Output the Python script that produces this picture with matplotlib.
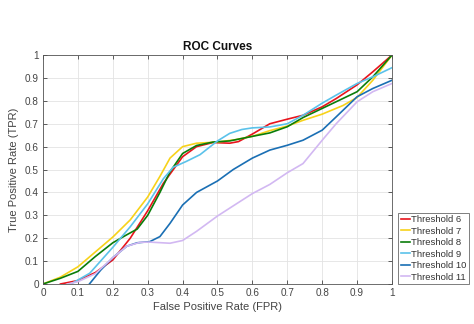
import matplotlib
matplotlib.use("Agg")
import matplotlib.pyplot as plt

plt.rcParams['font.family'] = ['Liberation Sans', 'DejaVu Sans']

# ROC curve readings (FPR, TPR) per threshold
fpr_t6 = [0.05, 0.10, 0.15, 0.20, 0.25, 0.30, 0.345, 0.383, 0.40, 0.44, 0.487, 0.535, 0.56,
          0.60, 0.65, 0.70, 0.745, 0.80, 0.84, 0.90, 0.945, 1.0]
tpr_t6 = [0.0, 0.015, 0.05, 0.105, 0.20, 0.32, 0.44, 0.52, 0.556, 0.60, 0.618, 0.615, 0.622,
          0.655, 0.70, 0.72, 0.737, 0.774, 0.81, 0.87, 0.927, 1.0]

fpr_t7 = [0.0, 0.05, 0.10, 0.15, 0.20, 0.25, 0.30, 0.335, 0.364, 0.40, 0.44, 0.50, 0.55,
          0.60, 0.65, 0.70, 0.745, 0.80, 0.86, 0.90, 0.945, 1.0]
tpr_t7 = [0.0, 0.03, 0.075, 0.14, 0.205, 0.28, 0.38, 0.47, 0.55, 0.60, 0.615, 0.62, 0.63,
          0.645, 0.67, 0.69, 0.715, 0.742, 0.78, 0.815, 0.89, 1.0]

fpr_t8 = [0.0, 0.05, 0.10, 0.15, 0.20, 0.24, 0.27, 0.30, 0.335, 0.364, 0.40, 0.44, 0.487,
          0.535, 0.60, 0.65, 0.70, 0.745, 0.80, 0.87, 0.90, 0.945, 1.0]
tpr_t8 = [0.0, 0.025, 0.055, 0.12, 0.18, 0.215, 0.24, 0.30, 0.40, 0.49, 0.57, 0.605, 0.62,
          0.625, 0.645, 0.66, 0.687, 0.727, 0.767, 0.818, 0.84, 0.905, 1.0]

fpr_t9 = [0.08, 0.134, 0.20, 0.25, 0.30, 0.345, 0.373, 0.41, 0.45, 0.50, 0.535, 0.57, 0.60,
          0.65, 0.70, 0.745, 0.80, 0.84, 0.90, 0.945, 1.0]
tpr_t9 = [0.0, 0.047, 0.16, 0.25, 0.35, 0.46, 0.51, 0.535, 0.565, 0.625, 0.658, 0.675, 0.682,
          0.686, 0.70, 0.737, 0.79, 0.825, 0.876, 0.905, 0.945]

fpr_t10 = [0.133, 0.165, 0.20, 0.24, 0.27, 0.306, 0.335, 0.364, 0.40, 0.44, 0.50, 0.545, 0.60,
           0.65, 0.70, 0.745, 0.80, 0.84, 0.90, 0.945, 1.0]
tpr_t10 = [0.0, 0.06, 0.115, 0.165, 0.18, 0.185, 0.207, 0.265, 0.345, 0.40, 0.45, 0.50, 0.55,
           0.585, 0.606, 0.628, 0.672, 0.73, 0.818, 0.854, 0.89]

fpr_t11 = [0.07, 0.10, 0.15, 0.20, 0.24, 0.278, 0.306, 0.364, 0.40, 0.44, 0.50, 0.554, 0.60,
           0.65, 0.70, 0.745, 0.80, 0.84, 0.90, 0.945, 1.0]
tpr_t11 = [0.0, 0.01, 0.045, 0.115, 0.165, 0.182, 0.183, 0.178, 0.19, 0.23, 0.297, 0.35, 0.395,
           0.435, 0.486, 0.526, 0.628, 0.70, 0.796, 0.84, 0.876]

labels = ['Threshold 6', 'Threshold 7', 'Threshold 8', 'Threshold 9', 'Threshold 10', 'Threshold 11']
colors = ['#e8141c', '#f7d21a', '#0a7d0a', '#5bc2ea', '#1a6fb4', '#d2b8f2']

curves = [(fpr_t6, tpr_t6), (fpr_t7, tpr_t7), (fpr_t8, tpr_t8),
          (fpr_t9, tpr_t9), (fpr_t10, tpr_t10), (fpr_t11, tpr_t11)]

fig = plt.figure(figsize=(4.74, 3.24), dpi=100)
ax = fig.add_axes([0.0907, 0.1235, 0.7363, 0.7065])

for (x, y), lab, c in zip(curves, labels, colors):
    ax.plot(x, y, color=c, linewidth=1.2, label=lab, solid_joinstyle='round')

ax.set_xlim(0, 1)
ax.set_ylim(0, 1)
ax.set_xticks([i / 10 for i in range(11)])
ax.set_yticks([i / 10 for i in range(11)])
ax.set_xticklabels(['0', '0.1', '0.2', '0.3', '0.4', '0.5', '0.6', '0.7', '0.8', '0.9', '1'])
ax.set_yticklabels(['0', '0.1', '0.2', '0.3', '0.4', '0.5', '0.6', '0.7', '0.8', '0.9', '1'])
ax.grid(True, color='#e3e3e3', linewidth=0.6)
ax.set_axisbelow(True)
ax.tick_params(direction='in', top=True, right=True, length=3, width=0.6,
               labelsize=7.2, colors='#444444', pad=3)
for s in ax.spines.values():
    s.set_color('#555555')
    s.set_linewidth(0.6)

ax.set_title('ROC Curves', fontsize=8.5, fontweight='bold', pad=4, color='#111111')
ax.set_xlabel('False Positive Rate (FPR)', fontsize=8, color='#444444', labelpad=3)
ax.set_ylabel('True Positive Rate (TPR)', fontsize=8, color='#444444', labelpad=4)

leg = ax.legend(loc='lower left', bbox_to_anchor=(1.018, 0.0), fontsize=6.8,
                frameon=True, fancybox=False, handlelength=1.0, handletextpad=0.1,
                borderpad=0.25, labelspacing=0.26, borderaxespad=0.0)
leg.get_frame().set_edgecolor('#444444')
leg.get_frame().set_linewidth(0.6)
for t in leg.get_texts():
    t.set_color('#333333')

fig.savefig('out.png', dpi=100)
